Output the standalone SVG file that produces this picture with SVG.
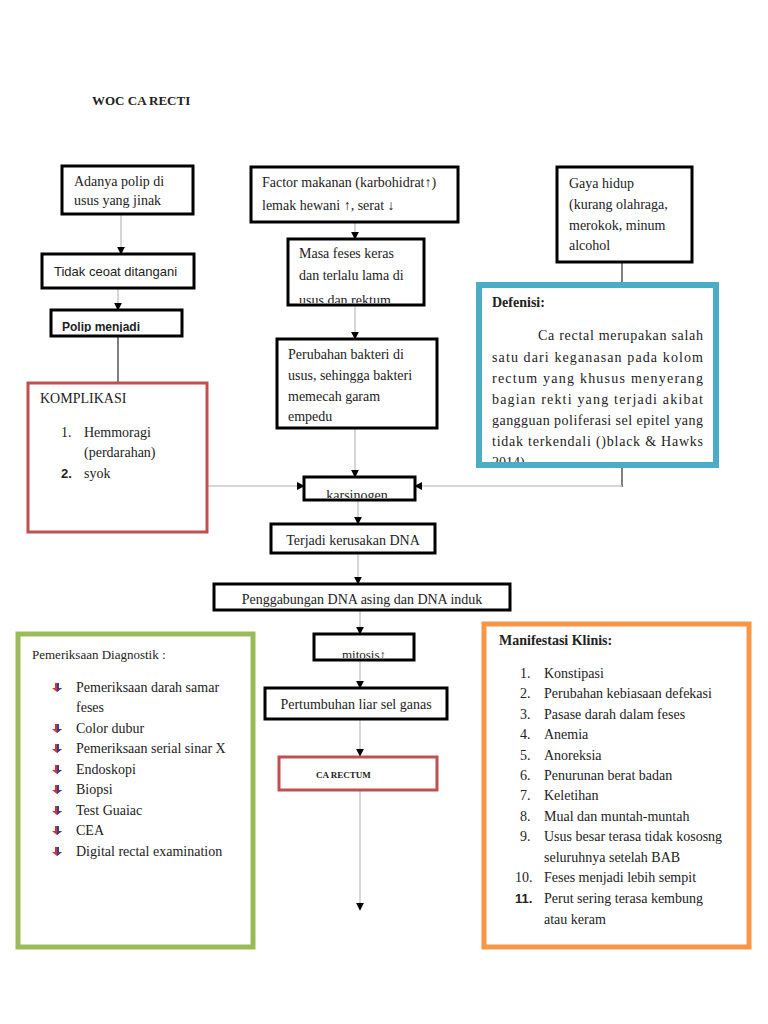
<svg xmlns="http://www.w3.org/2000/svg" width="768" height="1024" viewBox="0 0 768 1024">
<defs>
<style>
text{font-family:"Liberation Serif","Times New Roman",serif;font-size:14px;fill:#222}
.sans{font-family:"Liberation Sans",Arial,sans-serif}
.b{font-weight:bold}
.box{fill:#fff;stroke:#000;stroke-width:3}
.red{fill:#fff;stroke:#c0504d;stroke-width:3}
.blue{fill:#fff;stroke:#4bacc6;stroke-width:6}
.green{fill:#fff;stroke:#9bbb59;stroke-width:5}
.orange{fill:#fff;stroke:#f79646;stroke-width:5}
.ln{stroke:#c8c8c8;stroke-width:1.5;fill:none}
.dk{stroke:#555;stroke-width:1.5;fill:none}
</style>
<marker id="ah" viewBox="0 0 10 10" refX="9" refY="5" markerWidth="8" markerHeight="8" orient="auto" markerUnits="userSpaceOnUse">
<path d="M0,0 L10,5 L0,10 z" fill="#000"/>
</marker>
<clipPath id="cMasa"><rect x="290" y="241" width="132" height="62"/></clipPath>
<clipPath id="cPolip"><rect x="53" y="312" width="127" height="20"/></clipPath>
<clipPath id="cKars"><rect x="306" y="479" width="107" height="19"/></clipPath>
<clipPath id="cMit"><rect x="316" y="636" width="96" height="22"/></clipPath>
<clipPath id="cDef"><rect x="482" y="288" width="231" height="174"/></clipPath>
<g id="bullet">
<path d="M-3,-5 L1,-5 L1,0 L4,0 L-1,4 L-6,0 L-3,0 z" fill="#e03020"/>
<path d="M-1,-5 L1,-5 L1,0 L4,0 L-1,4 L-1,0 z" fill="#3040a0"/>
</g>
</defs>
<rect width="768" height="1024" fill="#fff"/>

<text x="92" y="105" class="b" style="font-size:13px">WOC CA RECTI</text>

<g id="connectors">
<line class="ln" x1="121" y1="214" x2="121" y2="254" marker-end="url(#ah)"/>
<line class="ln" x1="118" y1="288" x2="118" y2="310" marker-end="url(#ah)"/>
<line class="dk" x1="118" y1="336" x2="118" y2="383"/>
<line class="ln" x1="355" y1="222" x2="355" y2="239" marker-end="url(#ah)"/>
<line class="ln" x1="355" y1="305" x2="355" y2="339" marker-end="url(#ah)"/>
<line class="ln" x1="355" y1="428" x2="355" y2="477" marker-end="url(#ah)"/>
<line class="dk" x1="622" y1="262" x2="622" y2="285"/>
<line class="dk" x1="622" y1="465" x2="622" y2="487"/>
<line class="ln" x1="207" y1="486" x2="304" y2="486" marker-end="url(#ah)"/>
<line class="ln" x1="622" y1="486" x2="415" y2="486" marker-end="url(#ah)"/>
<line class="ln" x1="358" y1="500" x2="358" y2="524" marker-end="url(#ah)"/>
<line class="ln" x1="358" y1="553" x2="358" y2="584" marker-end="url(#ah)"/>
<line class="ln" x1="360" y1="610" x2="360" y2="634" marker-end="url(#ah)"/>
<line class="ln" x1="360" y1="660" x2="360" y2="688" marker-end="url(#ah)"/>
<line class="ln" x1="360" y1="719" x2="360" y2="756" marker-end="url(#ah)"/>
<line class="ln" x1="360" y1="790" x2="360" y2="910" marker-end="url(#ah)"/>
</g>

<g id="n-polip">
<rect class="box" x="62" y="166" width="131" height="48"/>
<text x="74" y="186">Adanya polip di</text>
<text x="74" y="205">usus yang jinak</text>
</g>
<g id="n-tidak">
<rect class="box" x="42" y="254" width="152" height="34"/>
<text x="54" y="276" class="sans" style="font-size:13px">Tidak ceoat ditangani</text>
</g>
<g id="n-polipmenjadi">
<rect class="box" x="51" y="310" width="131" height="26"/>
<text x="62" y="331" class="sans b" style="font-size:12px" clip-path="url(#cPolip)">Polip menjadi</text>
</g>
<g id="n-komplikasi">
<rect class="red" x="28" y="383" width="179" height="149"/>
<text x="40" y="403">KOMPLIKASI</text>
<text x="61" y="437">1.</text><text x="84" y="437">Hemmoragi</text>
<text x="84" y="457">(perdarahan)</text>
<text x="61" y="478" class="sans b" style="font-size:13px">2.</text><text x="84" y="478">syok</text>
</g>
<g id="n-factor">
<rect class="box" x="251" y="167" width="207" height="55"/>
<text x="262" y="187">Factor makanan (karbohidrat↑)</text>
<text x="262" y="210">lemak hewani ↑, serat ↓</text>
</g>
<g id="n-masa">
<rect class="box" x="288" y="239" width="136" height="66"/>
<g clip-path="url(#cMasa)">
<text x="299" y="258">Masa feses keras</text>
<text x="299" y="280">dan terlalu lama di</text>
<text x="299" y="305">usus dan rektum</text>
</g>
</g>
<g id="n-perubahan">
<rect class="box" x="277" y="339" width="160" height="89"/>
<text x="288" y="359">Perubahan  bakteri di</text>
<text x="288" y="380">usus, sehingga bakteri</text>
<text x="288" y="401">memecah garam</text>
<text x="288" y="421">empedu</text>
</g>
<g id="n-gaya">
<rect class="box" x="557" y="167" width="135" height="95"/>
<text x="569" y="188">Gaya hidup</text>
<text x="569" y="209">(kurang olahraga,</text>
<text x="569" y="230">merokok, minum</text>
<text x="569" y="250">alcohol</text>
</g>
<g id="n-defenisi">
<rect class="blue" x="479" y="285" width="237" height="180"/>
<text x="492" y="307" class="b">Defenisi:</text>
<g clip-path="url(#cDef)">
<text x="538" y="340" textLength="165" lengthAdjust="spacing">Ca rectal merupakan salah</text>
<text x="492" y="362" textLength="211" lengthAdjust="spacing">satu dari keganasan pada kolom</text>
<text x="492" y="383" textLength="211" lengthAdjust="spacing">rectum yang khusus menyerang</text>
<text x="492" y="404" textLength="211" lengthAdjust="spacing">bagian rekti yang terjadi akibat</text>
<text x="492" y="425" textLength="211" lengthAdjust="spacing">gangguan poliferasi sel epitel yang</text>
<text x="492" y="446" textLength="211" lengthAdjust="spacing">tidak terkendali ()black &amp; Hawks</text>
<text x="492" y="467">2014)</text>
</g>
</g>
<g id="n-karsinogen">
<rect class="box" x="304" y="477" width="111" height="23"/>
<text x="357" y="500" text-anchor="middle" clip-path="url(#cKars)">karsinogen</text>
</g>
<g id="n-kerusakan">
<rect class="box" x="271" y="524" width="164" height="29"/>
<text x="353" y="545" text-anchor="middle">Terjadi kerusakan DNA</text>
</g>
<g id="n-penggabungan">
<rect class="box" x="214" y="584" width="296" height="26"/>
<text x="362" y="604" text-anchor="middle">Penggabungan DNA asing dan DNA induk</text>
</g>
<g id="n-mitosis">
<rect class="box" x="314" y="634" width="100" height="26"/>
<text x="364" y="659" text-anchor="middle" clip-path="url(#cMit)" style="font-size:13px">mitosis↑</text>
</g>
<g id="n-pertumbuhan">
<rect class="box" x="265" y="688" width="182" height="31"/>
<text x="356" y="709" text-anchor="middle">Pertumbuhan liar sel ganas</text>
</g>
<g id="n-carectum">
<rect class="red" x="279" y="757" width="158" height="33"/>
<text x="316" y="778" class="b" style="font-size:9px">CA RECTUM</text>
</g>
<g id="n-diagnostik">
<rect class="green" x="18" y="634" width="235" height="313"/>
<text x="32" y="659" style="font-size:13px">Pemeriksaan Diagnostik :</text>
<use href="#bullet" x="58" y="688"/><text x="76" y="692">Pemeriksaan darah samar</text>
<text x="76" y="712">feses</text>
<use href="#bullet" x="58" y="729"/><text x="76" y="733">Color dubur</text>
<use href="#bullet" x="58" y="749"/><text x="76" y="753">Pemeriksaan serial sinar X</text>
<use href="#bullet" x="58" y="770"/><text x="76" y="774">Endoskopi</text>
<use href="#bullet" x="58" y="790"/><text x="76" y="794">Biopsi</text>
<use href="#bullet" x="58" y="811"/><text x="76" y="815">Test Guaiac</text>
<use href="#bullet" x="58" y="831"/><text x="76" y="835">CEA</text>
<use href="#bullet" x="58" y="852"/><text x="76" y="856">Digital rectal examination</text>
</g>
<g id="n-manifestasi">
<rect class="orange" x="484" y="624" width="265" height="323"/>
<text x="499" y="645" class="b">Manifestasi Klinis:</text>
<text x="520" y="678">1.</text><text x="544" y="678">Konstipasi</text>
<text x="520" y="698">2.</text><text x="544" y="698">Perubahan kebiasaan defekasi</text>
<text x="520" y="719">3.</text><text x="544" y="719">Pasase darah dalam feses</text>
<text x="520" y="739">4.</text><text x="544" y="739">Anemia</text>
<text x="520" y="760">5.</text><text x="544" y="760">Anoreksia</text>
<text x="520" y="780">6.</text><text x="544" y="780">Penurunan berat badan</text>
<text x="520" y="800">7.</text><text x="544" y="800">Keletihan</text>
<text x="520" y="821">8.</text><text x="544" y="821">Mual dan muntah-muntah</text>
<text x="520" y="841">9.</text><text x="544" y="841">Usus besar terasa tidak kososng</text>
<text x="544" y="862">seluruhnya setelah BAB</text>
<text x="515" y="882">10.</text><text x="544" y="882">Feses menjadi lebih sempit</text>
<text x="515" y="903" class="sans b" style="font-size:13px">11.</text><text x="544" y="903">Perut sering terasa kembung</text>
<text x="544" y="924">atau keram</text>
</g>
</svg>
